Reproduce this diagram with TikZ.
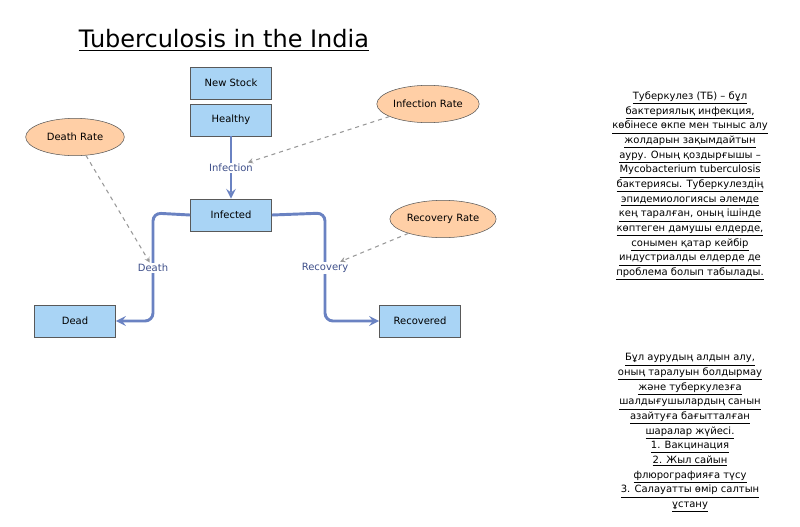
\documentclass[tikz,border=0pt]{standalone}
\usepackage{fontspec}
\setmainfont{DejaVu Sans}
\usepackage{tikz}
\usetikzlibrary{positioning,shapes.geometric}
\definecolor{stockfill}{HTML}{A9D4F5}
\definecolor{ratefill}{HTML}{FFCFA6}
\definecolor{flowblue}{HTML}{6A82C2}
\definecolor{labelblue}{HTML}{3E4F8A}

\begin{document}
\begin{tikzpicture}[x=0.75pt, y=-0.75pt,
                    every node/.style={align=center, font=\fontsize{7.5}{9}\selectfont},
                    stock/.style={draw=gray!70!black, fill=stockfill, minimum height=24pt, minimum width=61pt, inner sep=1pt},
                    rate/.style={ellipse, draw=gray!70!black, fill=ratefill, minimum height=28pt, minimum width=74pt, inner sep=1pt},
                    flow/.style={draw=flowblue, line width=2.2pt, rounded corners=6pt, -stealth},
                    link/.style={draw=gray!80, dashed, thick, -stealth},
                    flowlabel/.style={fill=white, inner sep=1pt, text=labelblue},
                    note/.style={font=\fontsize{7.5}{11}\selectfont}
                ]
                    \useasboundingbox (0,0) rectangle (800,526);

                    % Title
                    \node (title) at (224,40) {\fontsize{18}{20}\selectfont\underline{Tuberculosis in the India}};

                    % Stocks
                    \node (newstock) [stock] at (231,83) {New Stock};
                    \node (healthy) [stock] at (231,120) {Healthy};
                    \node (infected) [stock] at (231,215) {Infected};
                    \node (dead) [stock] at (75,321) {Dead};
                    \node (recovered) [stock] at (420,321) {Recovered};

                    % Rates
                    \node (deathrate) [rate] at (75,137) {Death Rate};
                    \node (infrate) [rate] at (428,104) {Infection Rate};
                    \node (recrate) [rate] at (443,219) {Recovery Rate};

                    % Flows
                    \coordinate (dcorner) at (153,213);
                    \coordinate (rcorner) at (325,213);
                    \draw[flow] (healthy) -- (infected);
                    \draw[flow] (infected.west) -- (dcorner) |- (dead);
                    \draw[flow] (infected.east) -- (rcorner) |- (recovered);
                    \node (infection) [flowlabel] at (231,168) {Infection};
                    \node (death) [flowlabel] at (153,268) {Death};
                    \node (recovery) [flowlabel] at (325,268) {Recovery};

                    % Links
                    \draw[link] (deathrate) -- (death);
                    \draw[link] (infrate) -- (infection);
                    \draw[link] (recrate) -- (recovery);

                    % Notes
                    \node (about) [note] at (690,186) {\underline{Туберкулез (ТБ) – бұл}\\ \underline{бактериялық инфекция,}\\ \underline{көбінесе өкпе мен тыныс алу}\\ \underline{жолдарын зақымдайтын}\\ \underline{ауру. Оның қоздырғышы –}\\ \underline{Mycobacterium tuberculosis}\\ \underline{бактериясы. Туберкулездің}\\ \underline{эпидемиологиясы әлемде}\\ \underline{кең таралған, оның ішінде}\\ \underline{көптеген дамушы елдерде,}\\ \underline{сонымен қатар кейбір}\\ \underline{индустриалды елдерде де}\\ \underline{проблема болып табылады.}};
                    \node (prevent) [note] at (690,433) {\underline{Бұл аурудың алдын алу,}\\ \underline{оның таралуын болдырмау}\\ \underline{және туберкулезға}\\ \underline{шалдығушылардың санын}\\ \underline{азайтуға бағытталған}\\ \underline{шаралар жүйесі.}\\ \underline{1. Вакцинация}\\ \underline{2. Жыл сайын}\\ \underline{флюрографияға түсу}\\ \underline{3. Салауатты өмір салтын}\\ \underline{ұстану}};

                \end{tikzpicture}
\end{document}
